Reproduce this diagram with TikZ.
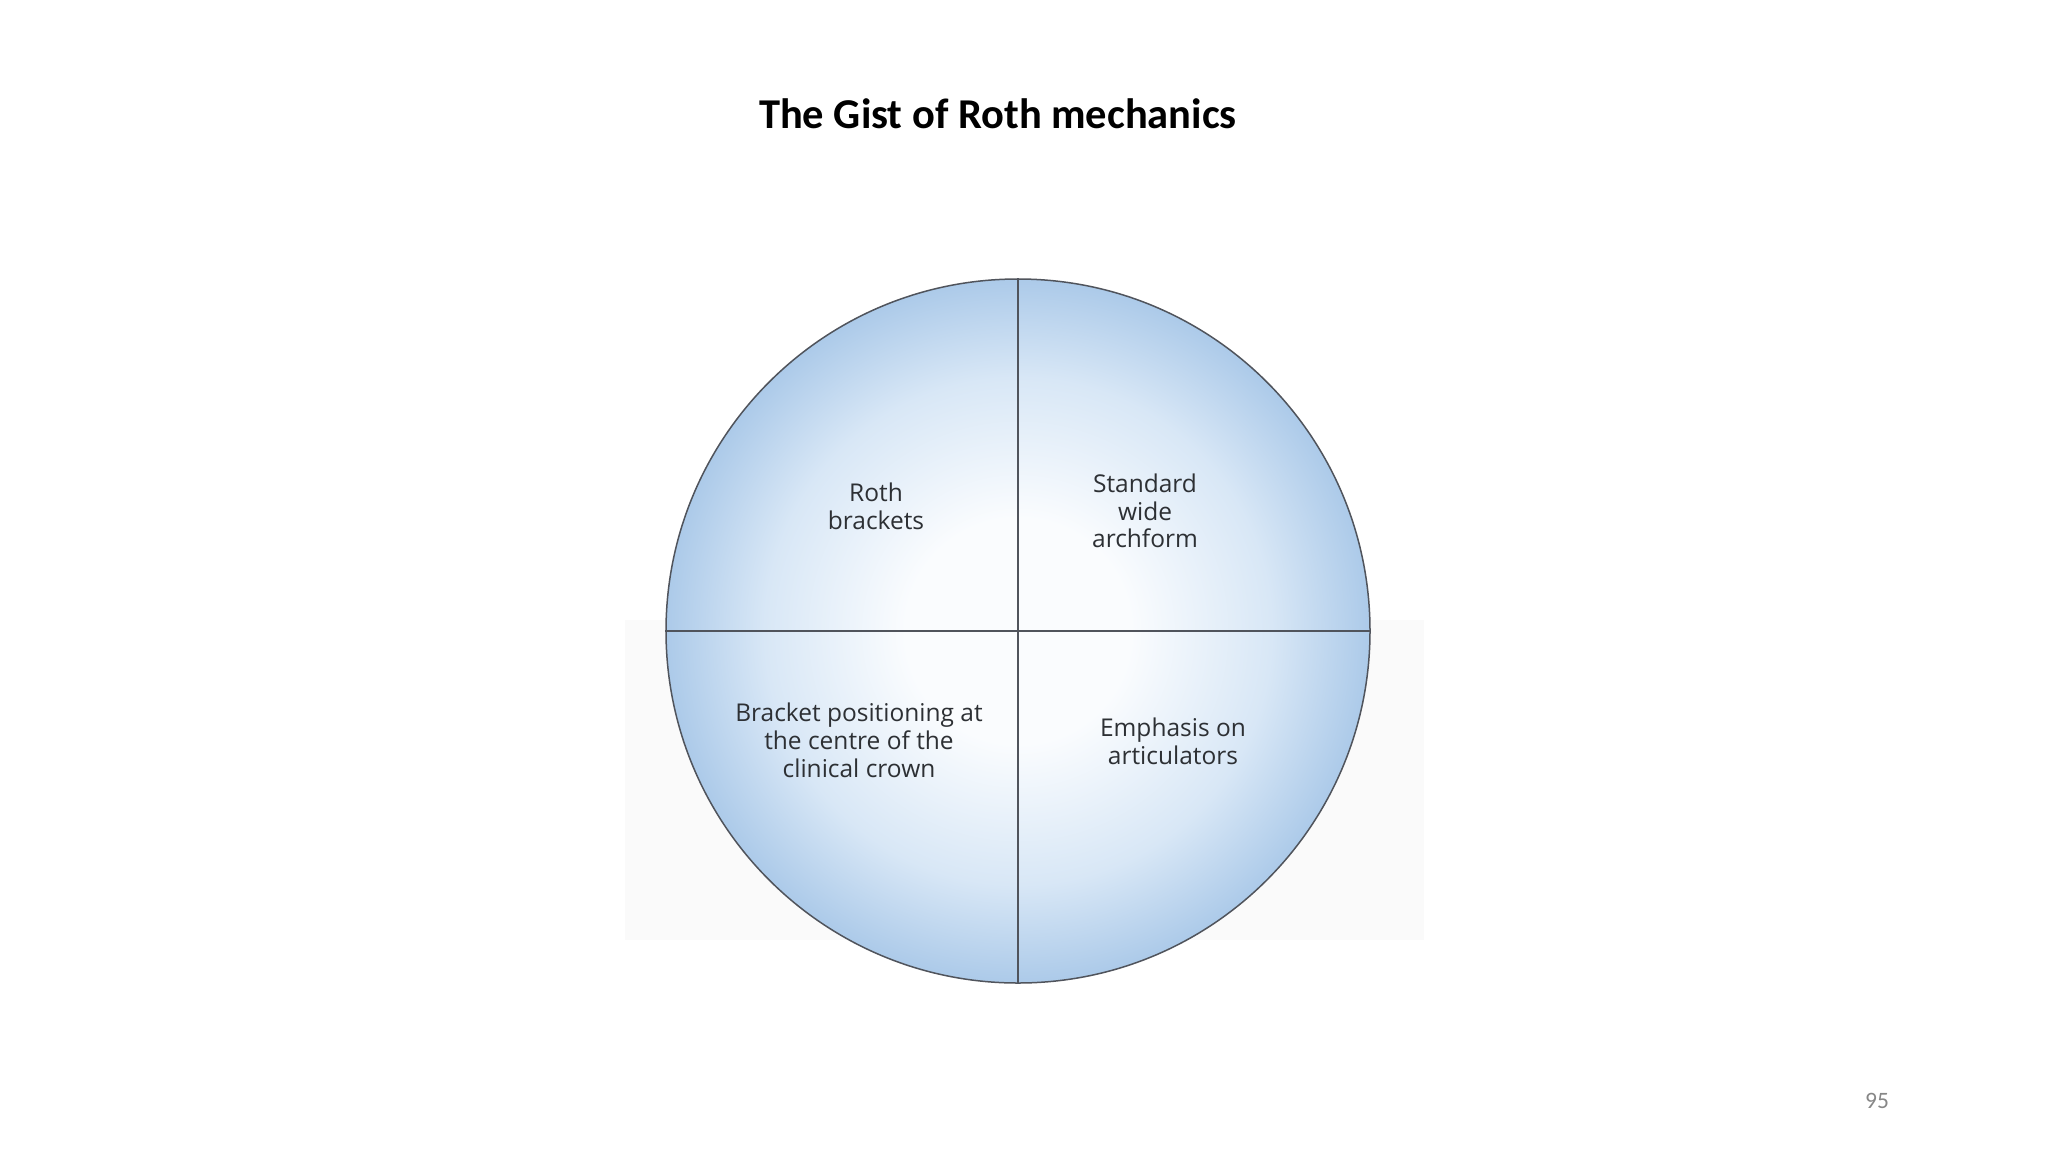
\documentclass[tikz,border=0pt]{standalone}
\usepackage{fontspec}
\setmainfont{Carlito}
\newfontfamily\labelfont{Open Sans}
\definecolor{rimblue}{RGB}{172,202,233}
\definecolor{midblue}{RGB}{216,231,246}
\definecolor{coreblue}{RGB}{250,252,254}
\definecolor{linegray}{RGB}{80,84,92}
\definecolor{textgray}{RGB}{45,48,52}
\definecolor{pagegray}{RGB}{135,135,135}
\definecolor{scanshade}{RGB}{250,250,250}
\pgfdeclareradialshading{rothdisc}{\pgfpoint{0bp}{0bp}}{%
  color(0bp)=(coreblue); color(8bp)=(coreblue); color(18bp)=(midblue);
  color(25bp)=(rimblue); color(50bp)=(rimblue)}
\tikzset{
  titletext/.style={font=\fontsize{42.5}{46}\selectfont\bfseries, text=black},
  quadtext/.style={font=\labelfont\fontsize{24.5}{27.8}\selectfont, text=textgray, align=center, inner sep=0pt},
  divider/.style={draw=linegray, line width=1.6pt},
  pagenum/.style={font=\fontsize{23.5}{25}\selectfont, text=pagegray}
}
\begin{document}
\begin{tikzpicture}[x=1pt,y=-1pt]
\useasboundingbox (0,0) rectangle (2048,1152);
\fill[white] (0,0) rectangle (2048,1152);
% faint scan artefact band
\fill[scanshade] (625,620) rectangle (1424,940);
\node[titletext] (title) at (998,114) {The Gist of Roth mechanics};
\node[circle, minimum size=704pt, inner sep=0pt, shading=rothdisc, draw=linegray, line width=1.5pt] (disc) at (1018,631) {};
\draw[divider] (disc.north) -- (disc.south);
\draw[divider] (disc.west) -- (disc.east);
\node[quadtext] (q1) at (876,506) {Roth\\brackets};
\node[quadtext] (q2) at (1145,511) {Standard\\wide\\archform};
\node[quadtext] (q3) at (859,740) {Bracket positioning at\\the centre of the\\clinical crown};
\node[quadtext] (q4) at (1173,741) {Emphasis on\\articulators};
\node[pagenum] (page) at (1877,1101) {95};
\end{tikzpicture}
\end{document}
